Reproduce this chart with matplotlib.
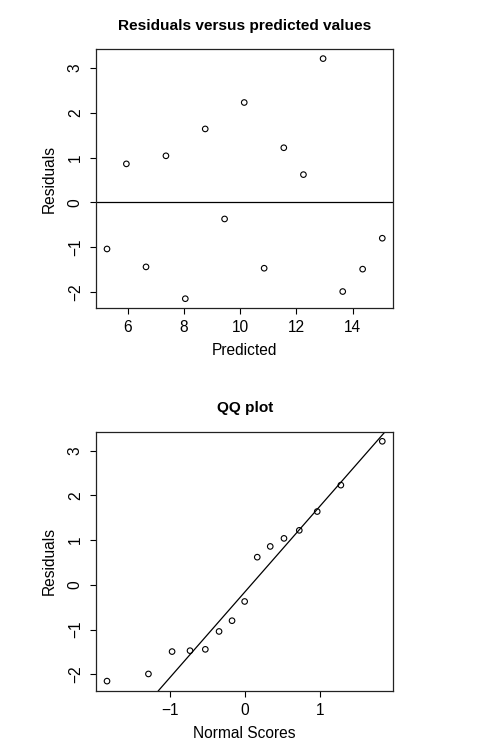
import numpy as np
import matplotlib
matplotlib.use("Agg")
import matplotlib.pyplot as plt

plt.rcParams['font.family'] = ['Liberation Sans', 'DejaVu Sans']

# Data
predicted = [5.25, 5.94, 6.64, 7.35, 8.04, 8.75, 9.44, 10.14, 10.85, 11.55,
             12.25, 12.95, 13.65, 14.36, 15.06]
residuals = [-1.04, 0.86, -1.44, 1.04, -2.15, 1.64, -0.37, 2.23, -1.47, 1.22,
             0.62, 3.21, -1.99, -1.49, -0.80]
normal_scores = [-1.834, -1.282, -0.967, -0.728, -0.524, -0.341, -0.168, 0.0,
                 0.168, 0.341, 0.524, 0.728, 0.967, 1.282, 1.834]
sorted_residuals = sorted(residuals)

x_ticks_top = [6, 8, 10, 12, 14]
x_ticks_bottom = [-1, 0, 1]
y_ticks = [-2, -1, 0, 1, 2, 3]

W, H = 490, 752
fig = plt.figure(figsize=(W / 100, H / 100), dpi=100)

def frac(l, t, r, b):
    return [l / W, 1 - b / H, (r - l) / W, (b - t) / H]

ax1 = fig.add_axes(frac(96, 49, 393.3, 308.3))
ax2 = fig.add_axes(frac(96, 431.7, 393.3, 690.7))

def rlim(vals):
    lo, hi = min(vals), max(vals)
    d = (hi - lo) * 0.04
    return lo - d, hi + d

def style(ax, xt):
    for s in ax.spines.values():
        s.set_linewidth(0.9)
        s.set_color('#222222')
    ax.set_xticks(xt)
    ax.set_yticks(y_ticks)
    ax.set_yticklabels([str(v).replace('-', '\u2212') for v in y_ticks],
                       rotation=90, va='center')
    ax.set_xticklabels([str(v).replace('-', '\u2212') for v in xt])
    ax.tick_params(direction='out', length=4.5, width=0.8, labelsize=11.2,
                   pad=5, colors='black')
    ax.tick_params(axis='x', pad=4)

# Top plot
ax1.scatter(predicted, residuals, s=16, facecolors='none', edgecolors='black',
            linewidths=0.8, zorder=3)
ax1.axhline(0, color='black', lw=0.9)
ax1.set_xlim(*rlim(predicted))
ax1.set_ylim(*rlim(residuals))
style(ax1, x_ticks_top)
ax1.set_title('Residuals versus predicted values', fontsize=11.1,
              fontweight='bold', pad=14)
ax1.set_xlabel('Predicted', fontsize=11.2, labelpad=6)
ax1.set_ylabel('Residuals', fontsize=11.2, labelpad=8)

# QQ plot
ax2.scatter(normal_scores, sorted_residuals, s=16, facecolors='none',
            edgecolors='black', linewidths=0.8, zorder=3)
yq = np.percentile(sorted_residuals, [25, 75])
xq = np.array([-0.6745, 0.6745])
slope = (yq[1] - yq[0]) / (xq[1] - xq[0])
intercept = yq[0] - slope * xq[0]
ax2.axline((0, intercept), slope=slope, color='black', lw=0.9)
ax2.set_xlim(*rlim(normal_scores))
ax2.set_ylim(*rlim(sorted_residuals))
style(ax2, x_ticks_bottom)
ax2.set_title('QQ plot', fontsize=11.1, fontweight='bold', pad=14)
ax2.set_xlabel('Normal Scores', fontsize=11.2, labelpad=6)
ax2.set_ylabel('Residuals', fontsize=11.2, labelpad=8)

fig.savefig('out.png', dpi=100, facecolor='white')
